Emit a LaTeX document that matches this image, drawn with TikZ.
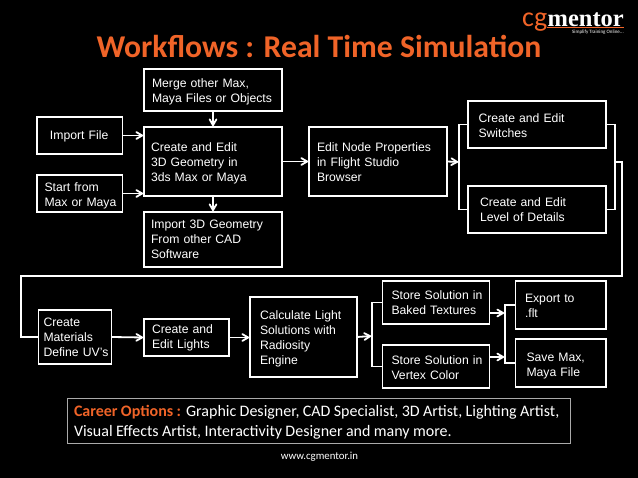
\documentclass[tikz,border=0pt]{standalone}
\usepackage{fontspec}
\setmainfont{Liberation Sans}
\newfontfamily\slidefont{Carlito}
\newfontfamily\logofont{Liberation Serif}
\usetikzlibrary{arrows}
\definecolor{cgorange}{RGB}{240,100,40}
\definecolor{careerline}{RGB}{170,170,170}
\tikzset{
  flowbox/.style n args={3}{draw=white, line width=1.8pt, text=white, outer sep=0pt,
    anchor=north west, align=left, font=\fontsize{12.2}{15}\selectfont,
    minimum width=#1pt, minimum height=#2pt, inner sep=0pt, text width=#1pt,
    execute at begin node={\leftskip=#3pt\relax}},
  nudge/.style={execute at begin node={\rule{0pt}{\dimexpr 8.8pt+#1pt\relax}}},
  flowline/.style={draw=white, line width=1.8pt},
  flowarrow/.style={flowline, ->, >=angle 60}
}

\begin{document}
\begin{tikzpicture}[x=1pt, y=-1pt]
  \useasboundingbox[fill=black] (0,0) rectangle (638,478);

  \node[text=cgorange, font=\slidefont\fontsize{31.7}{36}\selectfont\bfseries] (Title) at (319,46.5) {Workflows : Real Time Simulation};

  % logo
  \node[text=white, font=\logofont\fontsize{24.5}{26}\selectfont\bfseries, inner sep=0pt, anchor=base east] (LogoMentor) at (624,27) {mentor};
  \node[text=cgorange, font=\slidefont\fontsize{28}{28}\selectfont, inner sep=0pt, anchor=base east] (LogoCg) at (LogoMentor.base west) {cg};
  \node[text=white, font=\slidefont\fontsize{5}{5}\selectfont, anchor=east, inner sep=0pt] (Slogan) at (624,32.5) {Simplify Training Online...};
  \draw[cgorange, line width=0.7pt] (LogoMentor.base west) -- (LogoMentor.base east);

  % upper row
  \node[flowbox={138}{42}{8}, nudge=4] (Merge) at (144,69) {Merge other Max,\\Maya Files or Objects};
  \node[flowbox={85.5}{37}{13}, nudge=2] (ImportFile) at (37,117) {Import File};
  \node[flowbox={85.5}{37}{7.5}, nudge=4] (Start) at (37,175) {Start from\\Max or Maya};
  \node[flowbox={138}{69}{7}, nudge=4] (Geometry) at (144,127) {Create and Edit\\3D Geometry in\\3ds Max or Maya};
  \node[flowbox={138}{55}{7}] (ImportCAD) at (144,212) {Import 3D Geometry\\From other CAD\\Software};
  \node[flowbox={138}{69}{8}, nudge=2] (NodeProps) at (309,127) {Edit Node Properties\\in Flight Studio\\Browser};
  \node[flowbox={138}{47}{10.5}, nudge=2] (Switches) at (468,101) {Create and Edit\\Switches};
  \node[flowbox={138}{47}{12}] (Details) at (468,186) {Create and Edit\\Level of Details};

  % lower row
  \node[flowbox={73}{54}{5}] (Materials) at (38.5,310) {Create\\Materials\\Define UV's};
  \node[flowbox={85}{37}{8}] (Lights) at (144,319) {Create and\\Edit Lights};
  \node[flowbox={107}{80}{10}, nudge=4] (Radiosity) at (250,297) {Calculate Light\\Solutions with\\Radiosity\\Engine};
  \node[flowbox={107}{43}{9}] (Baked) at (382.5,281) {Store Solution in\\Baked Textures};
  \node[flowbox={107}{43}{9}, nudge=2] (Vertex) at (382.5,345) {Store Solution in\\Vertex Color};
  \node[flowbox={90.5}{48}{9.5}, nudge=2] (Export) at (515.5,281) {Export to\\.flt};
  \node[flowbox={90.5}{48}{11}, nudge=6] (Save) at (515.5,339) {Save Max,\\Maya File};

  \node[draw=careerline, line width=0.8pt, text=white, anchor=north west, outer sep=0pt, align=left,
    minimum width=503pt, minimum height=45pt, inner sep=0pt, text width=503pt, nudge=6,
    execute at begin node={\leftskip=6.5pt\relax\spaceskip=.21em\relax},
    font=\slidefont\fontsize{16}{19.3}\selectfont] (Career) at (67.5,398)
    {\textcolor{cgorange}{\bfseries Career Options :}\kern-3pt{} Graphic Designer, CAD Specialist, 3D Artist, Lighting Artist,\\Visual Effects Artist, Interactivity Designer and many more.};
  \node[text=white, font=\slidefont\fontsize{10.8}{13}\selectfont] (Web) at (319.5,456.5) {www.cgmentor.in};

  % bends of the connectors
  \coordinate (SplitUp) at (459,162);
  \coordinate (JoinUp) at (615,162);
  \coordinate (TurnA) at (622,162);
  \coordinate (TurnB) at (622,276);
  \coordinate (TurnC) at (21,276);
  \coordinate (SplitLow) at (372,336);
  \coordinate (JoinA) at (505,313);
  \coordinate (JoinB) at (505,357);

  \draw[flowarrow] (Merge) -- (Geometry);
  \draw[flowarrow] (Geometry) -- (ImportCAD);
  \draw[flowarrow] (ImportFile.east) -- (ImportFile.east -| Geometry.west);
  \draw[flowarrow] (Start.east) -- (Start.east -| Geometry.west);
  \draw[flowarrow] (Geometry) -- (NodeProps);
  \draw[flowarrow] (NodeProps.east) -- (SplitUp);
  \draw[flowline] (Switches.west) -| (SplitUp) |- (Details.west);
  \draw[flowline] (Switches.east) -| (JoinUp) |- (Details.east);
  \draw[flowline] (JoinUp) -- (TurnA) -- (TurnB) -- (TurnC) |- (Materials.west);

  \draw[flowarrow] (Materials.east) -- (Lights.west);
  \draw[flowarrow] (Lights.east) -- (Lights.east -| Radiosity.west);
  \draw[flowarrow] (Radiosity.east) -- (SplitLow);
  \draw[flowline] (Baked.west) -| (SplitLow) |- (Vertex.west);
  \draw[flowarrow] (Baked.east |- JoinA) -- (JoinA);
  \draw[flowarrow] (Vertex.east |- JoinB) -- (JoinB);
  \draw[flowline] (Export.west) -| (JoinA) -- (JoinB) |- (Save.west);
\end{tikzpicture}
\end{document}
